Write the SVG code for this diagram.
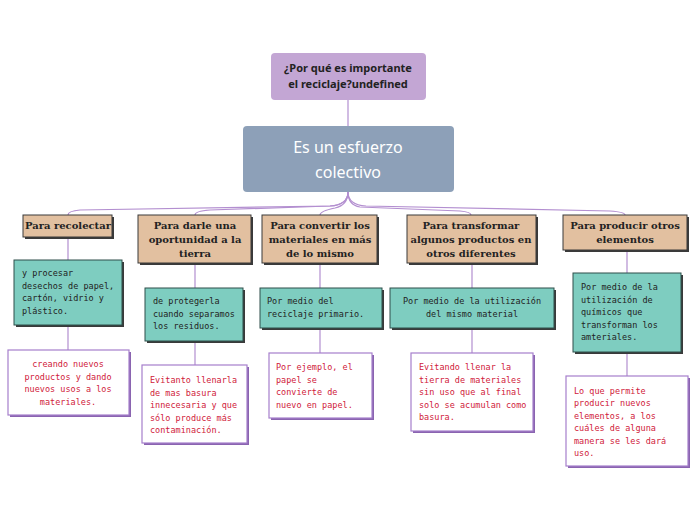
<svg xmlns="http://www.w3.org/2000/svg" width="697" height="520" viewBox="0 0 697 520">
<style>
.ln{fill:none;stroke:#b38fd0;stroke-width:1.2}
.cat{fill:#e2c0a0;stroke:#3a3a3a;stroke-width:1}
.teal{fill:#7ecdc0;stroke:#2f4f4a;stroke-width:1}
.wb{fill:#fff;stroke:#a67fcc;stroke-width:1.2}
.sh{fill:#3a3a3a}
.wsh{fill:#8a64b0}
.ct{font-family:"DejaVu Serif",serif;font-weight:bold;font-size:10px;fill:#222;text-anchor:middle}
.tt{font-family:"DejaVu Sans Mono",monospace;font-size:8.5px;fill:#222}
.rt{font-family:"DejaVu Sans Mono",monospace;font-size:8.5px;fill:#d0203a}
</style>
<rect width="697" height="520" fill="#fff"/>
<g id="connectors">
<path class="ln" d="M348 100V126"/>
<path class="ln" d="M348 192 Q348 205 330 206 L80 210 Q68 211 68 215"/>
<path class="ln" d="M348 192 Q348 205 330 206 L210 210 Q195 211 195 215"/>
<path class="ln" d="M348 192 Q348 205 335 208 Q320 211 320 215"/>
<path class="ln" d="M348 192 Q348 205 360 207 L460 211 Q471 212 471 215"/>
<path class="ln" d="M348 192 Q348 205 366 206 L610 211 Q625 212 625 215"/>
<path class="ln" d="M68 237V260 M68 325V350"/>
<path class="ln" d="M195 263V288 M195 341V365"/>
<path class="ln" d="M320 263V288 M320 328V353"/>
<path class="ln" d="M472 263V288 M472 328V353"/>
<path class="ln" d="M627 250V273 M627 352V376"/>
</g>
<g id="root">
<rect x="271" y="53" width="155" height="47" rx="4" fill="#c3a6d4"/>
<text class="ct" x="348" y="72" style="font-family:'Noto Sans',sans-serif;font-size:11px">¿Por qué es importante</text>
<text class="ct" x="348" y="88" style="font-family:'Noto Sans',sans-serif;font-size:11px">el reciclaje?undefined</text>
</g>
<g id="main">
<rect x="243" y="126" width="211" height="66" rx="4" fill="#8da0b8"/>
<text x="348" y="153" text-anchor="middle" font-family="Noto Sans,sans-serif" font-size="16" fill="#fff">Es un esfuerzo</text>
<text x="348" y="178" text-anchor="middle" font-family="Noto Sans,sans-serif" font-size="16" fill="#fff">colectivo</text>
</g>
<g id="c1"><rect class="sh" x="25" y="217" width="89" height="22"/><rect class="cat" x="23" y="215" width="89" height="22"/><text class="ct" x="68" y="229">Para recolectar</text></g>
<g id="c2"><rect class="sh" x="140" y="217" width="113" height="48"/><rect class="cat" x="138" y="215" width="113" height="48"/><text class="ct" x="195" y="229">Para darle una</text><text class="ct" x="195" y="243">oportunidad a la</text><text class="ct" x="195" y="257">tierra</text></g>
<g id="c3"><rect class="sh" x="264" y="217" width="115" height="48"/><rect class="cat" x="262" y="215" width="115" height="48"/><text class="ct" x="320" y="229">Para convertir los</text><text class="ct" x="320" y="243">materiales en más</text><text class="ct" x="320" y="257">de lo mismo</text></g>
<g id="c4"><rect class="sh" x="409" y="217" width="129" height="48"/><rect class="cat" x="407" y="215" width="129" height="48"/><text class="ct" x="471" y="229">Para transformar</text><text class="ct" x="471" y="243">algunos productos en</text><text class="ct" x="471" y="257">otros diferentes</text></g>
<g id="c5"><rect class="sh" x="565" y="217" width="124" height="35"/><rect class="cat" x="563" y="215" width="124" height="35"/><text class="ct" x="625" y="229">Para producir otros</text><text class="ct" x="625" y="243">elementos</text></g>
<g id="t1"><rect class="sh" x="16" y="262" width="108" height="65"/><rect class="teal" x="14" y="260" width="108" height="65"/><text class="tt" x="22" y="276">y procesar</text><text class="tt" x="22" y="289">desechos de papel,</text><text class="tt" x="22" y="301">cartón, vidrio y</text><text class="tt" x="22" y="314">plástico.</text></g>
<g id="t2"><rect class="sh" x="147" y="290" width="98" height="53"/><rect class="teal" x="145" y="288" width="98" height="53"/><text class="tt" x="153" y="304">de protegerla</text><text class="tt" x="153" y="317">cuando separamos</text><text class="tt" x="153" y="329">los residuos.</text></g>
<g id="t3"><rect class="sh" x="262" y="290" width="122" height="40"/><rect class="teal" x="260" y="288" width="122" height="40"/><text class="tt" x="267" y="304">Por medio del</text><text class="tt" x="267" y="317">reciclaje primario.</text></g>
<g id="t4"><rect class="sh" x="392" y="290" width="164" height="40"/><rect class="teal" x="390" y="288" width="164" height="40"/><text class="tt" x="472" y="304" text-anchor="middle">Por medio de la utilización</text><text class="tt" x="472" y="317" text-anchor="middle">del mismo material</text></g>
<g id="t5"><rect class="sh" x="575" y="275" width="108" height="79"/><rect class="teal" x="573" y="273" width="108" height="79"/><text class="tt" x="581" y="290">Por medio de la</text><text class="tt" x="581" y="303">utilización de</text><text class="tt" x="581" y="315">químicos que</text><text class="tt" x="581" y="328">transforman los</text><text class="tt" x="581" y="340">amteriales.</text></g>
<g id="w1"><rect class="wsh" x="10" y="352" width="121" height="65"/><rect class="wb" x="8" y="350" width="121" height="65"/><text class="rt" x="68" y="367" text-anchor="middle">creando nuevos</text><text class="rt" x="68" y="380" text-anchor="middle">productos y dando</text><text class="rt" x="68" y="392" text-anchor="middle">nuevos usos a los</text><text class="rt" x="68" y="405" text-anchor="middle">materiales.</text></g>
<g id="w2"><rect class="wsh" x="144" y="367" width="105" height="78"/><rect class="wb" x="142" y="365" width="105" height="78"/><text class="rt" x="150" y="383">Evitanto llenarla</text><text class="rt" x="150" y="396">de mas basura</text><text class="rt" x="150" y="408">innecesaria y que</text><text class="rt" x="150" y="421">sólo produce más</text><text class="rt" x="150" y="433">contaminación.</text></g>
<g id="w3"><rect class="wsh" x="271" y="355" width="103" height="65"/><rect class="wb" x="269" y="353" width="103" height="65"/><text class="rt" x="276" y="370">Por ejemplo, el</text><text class="rt" x="276" y="383">papel se</text><text class="rt" x="276" y="395">convierte de</text><text class="rt" x="276" y="408">nuevo en papel.</text></g>
<g id="w4"><rect class="wsh" x="413" y="355" width="122" height="78"/><rect class="wb" x="411" y="353" width="122" height="78"/><text class="rt" x="419" y="370">Evitando llenar la</text><text class="rt" x="419" y="383">tierra de materiales</text><text class="rt" x="419" y="395">sin uso que al final</text><text class="rt" x="419" y="408">solo se acumulan como</text><text class="rt" x="419" y="420">basura.</text></g>
<g id="w5"><rect class="wsh" x="568" y="378" width="122" height="90"/><rect class="wb" x="566" y="376" width="122" height="90"/><text class="rt" x="574" y="394">Lo que permite</text><text class="rt" x="574" y="406">producir nuevos</text><text class="rt" x="574" y="419">elementos, a los</text><text class="rt" x="574" y="431">cuáles de alguna</text><text class="rt" x="574" y="444">manera se les dará</text><text class="rt" x="574" y="456">uso.</text></g>
</svg>
